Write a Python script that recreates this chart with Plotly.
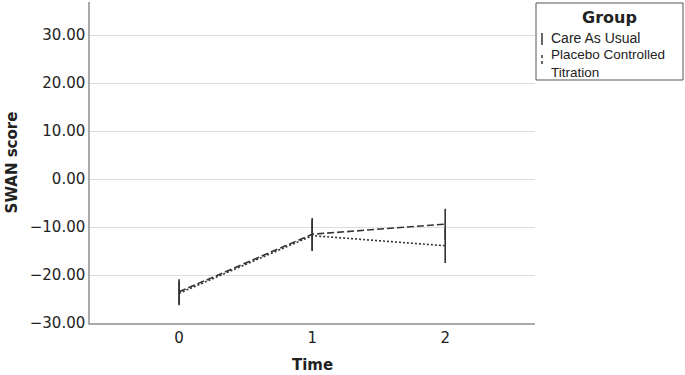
import plotly.graph_objects as go

time_points = [0, 1, 2]
x_tick_labels = ["0", "1", "2"]
y_ticks = [-30, -20, -10, 0, 10, 20, 30]

cau_mean = [-23.5, -11.5, -9.4]
cau_err = [2.6, 3.4, 3.2]
pct_mean = [-23.8, -11.8, -13.9]
pct_err = [2.5, 3.2, 3.6]

groups = ["Care As Usual", "Placebo Controlled<br>Titration"]

fig = go.Figure()
fig.add_trace(go.Scatter(
    x=time_points, y=cau_mean, mode="lines", name=groups[0],
    line=dict(color="#333333", width=1.6, dash="7px,3px"),
    error_y=dict(type="data", array=cau_err, visible=True, color="#333333", thickness=1.6, width=0),
    showlegend=False))
fig.add_trace(go.Scatter(
    x=time_points, y=pct_mean, mode="lines", name=groups[1],
    line=dict(color="#333333", width=1.6, dash="2px,2px"),
    error_y=dict(type="data", array=pct_err, visible=True, color="#333333", thickness=1.6, width=0),
    showlegend=False))

W, H = 685, 375
ml, mr, mt, mb = 90, 150, 2, 52
pw, ph = W - ml - mr, H - mt - mb

def px(x):
    return (x - ml) / pw

def py(y):
    return (H - mb - y) / ph

font = "DejaVu Sans"
lfont = "Liberation Sans"
fig.update_layout(
    width=W, height=H, margin=dict(l=ml, r=mr, t=mt, b=mb),
    plot_bgcolor="white", paper_bgcolor="white",
    font=dict(family=font, size=14, color="#222222"),
    xaxis=dict(range=[-0.67, 2.675], tickvals=time_points, ticktext=x_tick_labels,
               showgrid=False, zeroline=False, showline=True, linecolor="#aaaaaa",
               linewidth=1.5, ticks="", tickfont=dict(size=15),
               title=dict(text="<b>Time</b>", font=dict(size=15), standoff=14)),
    yaxis=dict(range=[-30, 36.9], tickvals=y_ticks,
               ticktext=["%.2f" % v if v >= 0 else "\u2212%.2f" % abs(v) for v in y_ticks],
               showgrid=True, gridcolor="#dcdcdc", gridwidth=1.2, zeroline=False,
               showline=True, linecolor="#aaaaaa", linewidth=1.5, ticks="",
               tickfont=dict(size=15),
               title=dict(text="<b>SWAN score</b>", font=dict(size=15), standoff=8)),
)

# legend box drawn manually
fig.add_shape(type="rect", xref="paper", yref="paper",
              x0=px(536), x1=px(683), y0=py(80), y1=py(3),
              line=dict(color="#555555", width=1), fillcolor="white")
fig.add_annotation(xref="paper", yref="paper", x=px(609), y=py(17), text="<b>Group</b>",
                   showarrow=False, font=dict(size=16, family=font, color="#222222"),
                   xanchor="center", yanchor="middle")
fig.add_annotation(xref="paper", yref="paper", x=px(550), y=py(38), text=groups[0],
                   showarrow=False, font=dict(size=14, family=lfont, color="#222222"),
                   xanchor="left", yanchor="middle", borderpad=0)
fig.add_annotation(xref="paper", yref="paper", x=px(550), y=py(63), text=groups[1],
                   showarrow=False, font=dict(size=13.5, family=lfont, color="#222222"),
                   xanchor="left", yanchor="middle", align="left", borderpad=0)
fig.add_shape(type="line", xref="paper", yref="paper", x0=px(542), x1=px(542),
              y0=py(45), y1=py(33), line=dict(color="#333333", width=1.5))
fig.add_shape(type="line", xref="paper", yref="paper", x0=px(542), x1=px(542),
              y0=py(64), y1=py(52), line=dict(color="#333333", width=1.5, dash="dot"))

fig.write_html("out.html", config={"displayModeBar": False},
               post_script="document.body.style.margin='0';document.body.style.overflow='hidden';")
